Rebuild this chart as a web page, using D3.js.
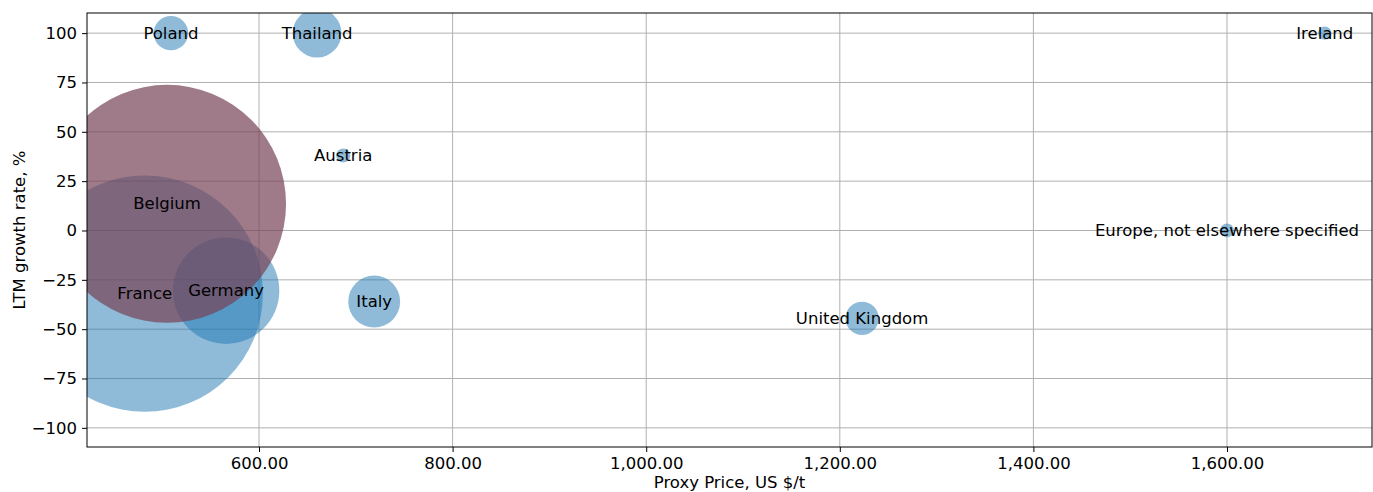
<!DOCTYPE html>
<html>
<head>
<meta charset="utf-8">
<script src="https://cdn.jsdelivr.net/npm/d3@7"></script>
<style>
  body { margin: 0; background: #fff; }
  svg text { font-family: 'DejaVu Sans', sans-serif; }
</style>
</head>
<body>
<div id="chart"></div>
<script>
// countries, drawn in this order (Belgium last, on top)
const countries = ['France', 'Germany', 'Italy', 'Poland', 'Thailand', 'Austria',
  'United Kingdom', 'Europe, not elsewhere specified', 'Ireland', 'Belgium']
const proxyPrice = [482, 566, 719, 509, 660, 687, 1223, 1600, 1701, 505]
const growthRate = [-32, -30.5, -36, 100, 100, 38, -44.5, 0, 100, 13.5]
const volume = [14100, 2860, 680, 300, 600, 50, 280, 48, 45, 14300]
const highlight = 'Belgium'
const xTicks = [600, 800, 1000, 1200, 1400, 1600]
const yTicks = [-100, -75, -50, -25, 0, 25, 50, 75, 100]

const width = 1373
const height = 492
const margin = {left: 87, right: 1, top: 13, bottom: 45}
const innerW = width - margin.left - margin.right
const innerH = height - margin.top - margin.bottom
const fontSize = '16.5px'

const data = countries.map((c, i) => ({
  name: c, x: proxyPrice[i], y: growthRate[i], v: volume[i]
}))

const svg = d3.select('#chart')
  .append('svg')
  .attr('width', width)
  .attr('height', height)

const xScale = d3.scaleLinear()
  .domain([422.3, 1749.8])
  .range([margin.left, margin.left + innerW])
const yScale = d3.scaleLinear()
  .domain([-109.7, 110.2])
  .range([margin.top + innerH, margin.top])
const rScale = d3.scaleSqrt()
  .domain([0, d3.max(volume)])
  .range([0, 119])

svg.append('clipPath')
  .attr('id', 'clip')
  .append('rect')
  .attr('x', margin.left)
  .attr('y', margin.top)
  .attr('width', innerW)
  .attr('height', innerH)

// grid
const grid = svg.append('g')
grid.selectAll('.vgrid')
  .data(xTicks)
  .enter()
  .append('line')
  .attr('x1', d => xScale(d))
  .attr('x2', d => xScale(d))
  .attr('y1', margin.top)
  .attr('y2', margin.top + innerH)
  .style('stroke', '#b0b0b0')
  .style('stroke-width', 1)
grid.selectAll('.hgrid')
  .data(yTicks)
  .enter()
  .append('line')
  .attr('x1', margin.left)
  .attr('x2', margin.left + innerW)
  .attr('y1', d => yScale(d))
  .attr('y2', d => yScale(d))
  .style('stroke', '#b0b0b0')
  .style('stroke-width', 1)

// bubbles
const bubbles = svg.append('g').attr('clip-path', 'url(#clip)')
bubbles.selectAll('circle')
  .data(data)
  .enter()
  .append('circle')
  .attr('cx', d => xScale(d.x))
  .attr('cy', d => yScale(d.y))
  .attr('r', d => rScale(d.v))
  .style('fill', d => d.name === highlight ? 'rgb(118,65,85)' : '#1f77b4')
  .style('fill-opacity', d => d.name === highlight ? 0.7 : 0.5)

// labels
svg.append('g')
  .selectAll('text')
  .data(data)
  .enter()
  .append('text')
  .attr('x', d => xScale(d.x))
  .attr('y', d => yScale(d.y))
  .attr('text-anchor', 'middle')
  .attr('dominant-baseline', 'central')
  .style('font-size', fontSize)
  .style('fill', '#000')
  .text(d => d.name)

// axes
const xAxis = d3.axisBottom(xScale)
  .tickValues(xTicks)
  .tickFormat(d3.format(',.2f'))
  .tickSize(5)
  .tickPadding(5)
const yAxis = d3.axisLeft(yScale)
  .tickValues(yTicks)
  .tickSize(5)
  .tickPadding(5)

const gx = svg.append('g')
  .attr('transform', 'translate(0,' + (margin.top + innerH) + ')')
  .call(xAxis)
const gy = svg.append('g')
  .attr('transform', 'translate(' + margin.left + ',0)')
  .call(yAxis)
for (const g of [gx, gy]) {
  g.select('.domain').remove()
  g.selectAll('text')
    .style('font-size', fontSize)
    .style('font-family', "'DejaVu Sans', sans-serif")
    .style('fill', '#000')
  g.selectAll('line').style('stroke', '#000')
}

// frame
svg.append('rect')
  .attr('x', margin.left)
  .attr('y', margin.top)
  .attr('width', innerW)
  .attr('height', innerH)
  .style('fill', 'none')
  .style('stroke', '#000')
  .style('stroke-width', 1)

// axis titles
svg.append('text')
  .attr('x', margin.left + innerW / 2)
  .attr('y', 488)
  .attr('text-anchor', 'middle')
  .style('font-size', fontSize)
  .text('Proxy Price, US $/t')
svg.append('text')
  .attr('transform', 'translate(25,' + (margin.top + innerH / 2) + ') rotate(-90)')
  .attr('text-anchor', 'middle')
  .style('font-size', fontSize)
  .text('LTM growth rate, %')
</script>
</body>
</html>
